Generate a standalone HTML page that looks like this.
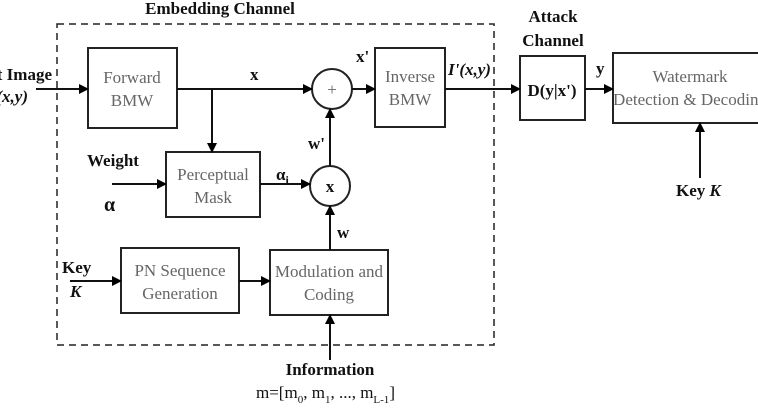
<!DOCTYPE html>
<html><head><style>html,body{margin:0;padding:0;background:#fff}svg{display:block;font-family:"Liberation Serif",serif}</style></head><body>
<svg width="758" height="412" viewBox="0 0 758 412" xmlns="http://www.w3.org/2000/svg">
<defs><marker id="a" markerWidth="10" markerHeight="10" refX="9" refY="5" orient="auto" markerUnits="userSpaceOnUse"><path d="M0,0 L10,5 L0,10 z" fill="#000"/></marker></defs>
<rect x="57" y="24" width="437" height="321" fill="none" stroke="#222" stroke-width="1.5" stroke-dasharray="7,5"/>
<g fill="none" stroke="#222" stroke-width="2">
<rect x="88" y="48" width="89" height="80"/>
<rect x="166" y="152" width="94" height="65"/>
<rect x="375" y="48" width="70" height="79"/>
<rect x="520" y="56" width="65" height="64"/>
<rect x="613" y="53" width="150" height="70"/>
<rect x="121" y="248" width="118" height="65"/>
<rect x="270" y="250" width="118" height="65"/>
<circle cx="332" cy="89" r="20"/>
<circle cx="330" cy="186" r="20"/>
</g>
<g stroke="#111" stroke-width="2" fill="none" marker-end="url(#a)">
<line x1="36" y1="89" x2="88" y2="89"/>
<line x1="177" y1="89" x2="312" y2="89"/>
<line x1="212" y1="89" x2="212" y2="152"/>
<line x1="352" y1="89" x2="375" y2="89"/>
<line x1="445" y1="89" x2="520" y2="89"/>
<line x1="585" y1="89" x2="613" y2="89"/>
<line x1="700" y1="178" x2="700" y2="123"/>
<line x1="112" y1="184" x2="166" y2="184"/>
<line x1="260" y1="184" x2="310" y2="184"/>
<line x1="330" y1="166" x2="330" y2="109"/>
<line x1="330" y1="250" x2="330" y2="206"/>
<line x1="70" y1="281" x2="121" y2="281"/>
<line x1="239" y1="281" x2="270" y2="281"/>
<line x1="330" y1="360" x2="330" y2="315"/>
</g>
<g font-size="17" fill="#666" text-anchor="middle">
<text x="132" y="83">Forward</text><text x="132" y="106">BMW</text>
<text x="213" y="180">Perceptual</text><text x="213" y="203">Mask</text>
<text x="410" y="82">Inverse</text><text x="410" y="105">BMW</text>
<text x="690" y="82">Watermark</text><text x="690" y="105">Detection &amp; Decoding</text>
<text x="180" y="276">PN Sequence</text><text x="180" y="299">Generation</text>
<text x="329" y="277">Modulation and</text><text x="329" y="300">Coding</text>
<text x="332" y="95">+</text>
</g>
<g font-size="17" font-weight="bold" fill="#111">
<text x="220" y="14" text-anchor="middle">Embedding Channel</text>
<text x="553" y="22" text-anchor="middle">Attack</text>
<text x="553" y="46" text-anchor="middle">Channel</text>
<text x="552" y="96" text-anchor="middle">D(y|x')</text>
<text x="52" y="80" text-anchor="end">Input Image</text>
<text x="28" y="102" text-anchor="end" font-style="italic">I(x,y)</text>
<text x="250" y="80">x</text>
<text x="356" y="62">x'</text>
<text x="308" y="149">w'</text>
<text x="330" y="192" text-anchor="middle">x</text>
<text x="337" y="238">w</text>
<text x="596" y="74">y</text>
<text x="448" y="75" font-style="italic">I'(x,y)</text>
<text x="676" y="196">Key <tspan font-style="italic">K</tspan></text>
<text x="87" y="166">Weight</text>
<text x="104" y="211" font-size="20">α</text>
<text x="276" y="180">α<tspan font-size="12" dy="4">i</tspan></text>
<text x="62" y="273">Key</text>
<text x="70" y="297" font-style="italic">K</text>
<text x="330" y="375" text-anchor="middle">Information</text>
<text x="256" y="398" font-weight="normal">m=[m<tspan font-size="11" dy="5">0</tspan><tspan dy="-5">, m</tspan><tspan font-size="11" dy="5">1</tspan><tspan dy="-5">, ..., m</tspan><tspan font-size="11" dy="5">L-1</tspan><tspan dy="-5">]</tspan></text>
</g>
</svg>
</body></html>
